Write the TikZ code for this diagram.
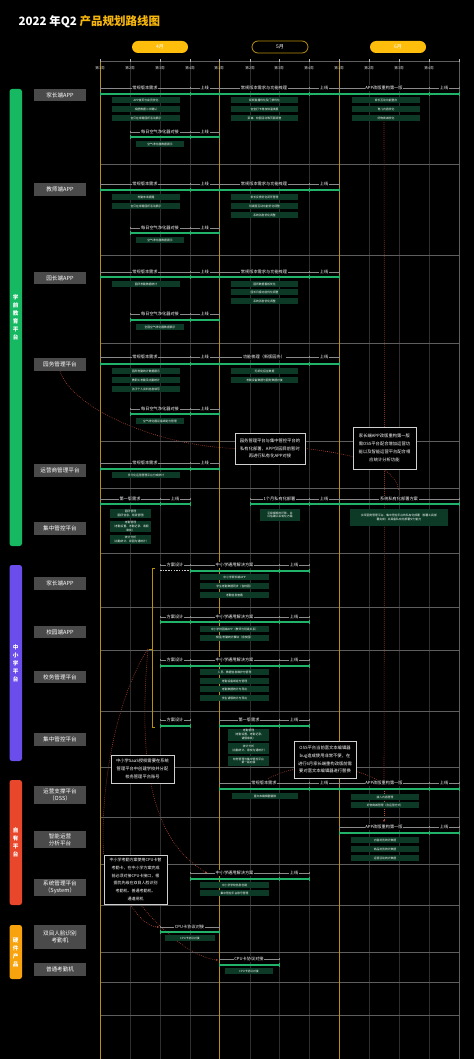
\documentclass[tikz,border=0pt]{standalone}
\usepackage{fontspec}
\setmainfont{Noto Sans CJK SC}
\usetikzlibrary{arrows.meta}
\pgfdeclarelayer{bgfill}
\pgfdeclarelayer{conn}
\pgfsetlayers{bgfill,conn,main}
\definecolor{lblgray}{HTML}{4A4A4A}
\definecolor{catG}{HTML}{17B862}
\definecolor{catP}{HTML}{6A4DEB}
\definecolor{catR}{HTML}{E9472B}
\definecolor{catO}{HTML}{F8A30E}
\definecolor{goldc}{HTML}{B8900A}
\definecolor{pillY}{HTML}{FFBE0B}
\definecolor{titleY}{HTML}{F6B60C}
\definecolor{lgreen}{HTML}{22B36A}
\definecolor{boxg}{HTML}{0D3A27}
\definecolor{gridc}{HTML}{2E2E2E}
\definecolor{sepc}{HTML}{5E5E5E}
\definecolor{hdrgray}{HTML}{8A8A8A}
\definecolor{reddot}{HTML}{C04A33}
\definecolor{notegray}{HTML}{D0D0D0}
\newcommand\hseg[4]{%
  \draw[hdr] (#1,#3) -- (#2,#3);
  \draw[hdr] (#1,#3-1.2) -- (#1,#3+1.2);
  \draw[hdr] (#2,#3-1.2) -- (#2,#3+1.2);
  \node[htxt] at ({(#1+#2)/2},#3) {#4};}
\newcommand\gseg[3]{\draw[gline] (#1,#3) -- (#2,#3);}
\newcommand\gtk[2]{\draw[gtick] (#1,#2-1.8) -- (#1,#2+1.8);}
\newcommand\tbx[4]{\fill[boxg] (#1,#3-3.1) rectangle (#2,#3+3.1); \node[btxt] at ({(#1+#2)/2},#3) {#4};}
\newcommand\tbxx[5]{\fill[boxg] (#1,#3) rectangle (#2,#4); \node[btxt] at ({(#1+#2)/2},{(#3+#4)/2}) {#5};}
\begin{document}
\begin{tikzpicture}[x=1pt,y=-1pt,
  hdr/.style={draw=hdrgray,line width=0.35pt},
  htxt/.style={fill=black,text=white,inner sep=0.8pt,font=\fontsize{4.2}{5}\selectfont},
  gline/.style={draw=lgreen,line width=1.1pt},
  gtick/.style={draw=lgreen,line width=0.6pt},
  btxt/.style={text=white,inner sep=0pt,align=center,font=\fontsize{2.8}{3.6}\selectfont},
  lbl/.style={fill=lblgray,text=white,inner sep=0pt,minimum width=52pt,minimum height=12.5pt,align=center,font=\fontsize{5.6}{7}\selectfont},
  cat/.style={rounded corners=2.5pt},
  cattxt/.style={text=white,align=center,inner sep=0pt,font=\fontsize{5.6}{8}\selectfont\bfseries},
  note/.style={draw=notegray,line width=0.8pt,fill=black,text=white,align=center,inner sep=0pt,font=\fontsize{4.3}{7.8}\selectfont},
  rdot/.style={draw=reddot,line width=0.6pt,dash pattern=on 0.7pt off 1.3pt},
  rarr/.style={rdot,-{Stealth[length=2.2pt,width=2pt]}},
  wk/.style={text=white!85!black,font=\fontsize{3.6}{4}\selectfont,inner sep=0pt},
  pill/.style={rounded corners=6pt,minimum width=56pt,minimum height=12pt,inner sep=0pt,font=\fontsize{5}{6}\selectfont,text=white},
  wdash/.style={draw=white!80!black,line width=0.6pt,dash pattern=on 1.5pt off 1.2pt}
]
\useasboundingbox (0,0) rectangle (474,1059);
\begin{pgfonlayer}{bgfill}
\fill[black] (0,0) rectangle (474,1059);
\end{pgfonlayer}
% title
\node[anchor=west,inner sep=0pt,font=\fontsize{11.5}{12}\selectfont\bfseries,text=white] (title) at (18.5,21.5) {2022 年Q2 \textcolor{titleY}{产品规划路线图}};
% months
\node[pill,fill=pillY] (mo4) at (160,47) {4月};
\node[pill,draw=goldc,line width=0.8pt,fill=black] (mo5) at (280,47) {5月};
\node[pill,fill=pillY] (mo6) at (398,47) {6月};
% grid
\foreach \x in {130,160,190,250,279,309,369,399,429} \draw[gridc,line width=0.5pt] (\x,61) -- (\x,1059);
\draw[sepc,line width=0.6pt] (459,61) -- (459,1059);
\foreach \y in {164,255,343,441,488,553,607,650,711,767,817,864,905,952,982,1015} \draw[sepc,line width=0.7pt] (100,\y) -- (459,\y);
\foreach \x in {100,219,339} \draw[goldc,line width=0.8pt] (\x,61) -- (\x,1059);
\draw[sepc,line width=0.6pt] (100,61) -- (459,61);
\foreach \x in {100,130,160,190,219,250,279,309,339,369,399,429,459} \draw[white!70!black,line width=0.5pt] (\x,59.5) -- (\x,62.5);
\foreach \x/\wn in {100/1,130/2,160/3,190/4,219/1,250/2,279/3,309/4,339/1,369/2,399/3,429/4} \node[wk] at (\x,68) {第{\wn}周};
% category bars
\fill[catG,cat] (9.5,89) rectangle (22,546);
\fill[catP,cat] (9.5,565) rectangle (22,761);
\fill[catR,cat] (9.5,780) rectangle (22,905);
\fill[catO,cat] (9.5,925) rectangle (22,979);
\node[cattxt] (c1) at (15.75,317.5) {学\\前\\教\\育\\平\\台};
\node[cattxt] (c2) at (15.75,663) {中\\小\\学\\平\\台};
\node[cattxt] (c3) at (15.75,842.5) {自\\有\\平\\台};
\node[cattxt] (c4) at (15.75,952) {硬\\件\\产\\品};
% labels
\node[lbl] (p1) at (60,95) {家长端APP};
\node[lbl] (p2) at (60,189.5) {教师端APP};
\node[lbl] (p3) at (60,278) {园长端APP};
\node[lbl] (p4) at (60,364.5) {园务管理平台};
\node[lbl] (p5) at (60,470.5) {运营商管理平台};
\node[lbl] (p6) at (60,528.5) {集中管控平台};
\node[lbl] (m1) at (60,583.5) {家长端APP};
\node[lbl] (m2) at (60,632) {校园端APP};
\node[lbl] (m3) at (60,677) {校务管理平台};
\node[lbl] (m4) at (60,739.5) {集中管控平台};
\node[lbl,minimum height=18pt] (s1) at (60,795) {运营支撑平台\\（OSS）};
\node[lbl,minimum height=17pt] (s2) at (60,839.5) {智能运营\\分析平台};
\node[lbl,minimum height=17pt] (s3) at (60,887.5) {系统管理平台\\（System）};
\node[lbl,minimum height=24pt] (h1) at (60,937) {双目人脸识别\\考勤机};
\node[lbl] (h2) at (60,969.5) {普通考勤机};
% ===== 学前 家长端
\hseg{100}{190}{88}{常规版本需求}
\hseg{190}{219}{88}{上线}
\hseg{219}{309}{88}{常规版本需求与功能梳理}
\hseg{309}{339}{88}{上线}
\hseg{339}{429}{88}{APP改版重构第一版}
\hseg{429}{459}{88}{上线}
\gseg{100}{459}{94}
\foreach \x in {100,190,219,309,339,429,459} {\gtk{\x}{94}}
\tbx{112}{180}{100}{APP首页与会员优化}
\tbx{112}{180}{109}{相册数据二次确认}
\tbx{112}{180}{118}{宝贝在家看园所活动展示}
\tbx{231}{298}{100}{视频直播优化及门禁优化}
\tbx{231}{298}{109}{宝宝打卡增加体温填报}
\tbx{231}{298}{118}{菜谱、校园活动等页面调整}
\tbx{352}{420}{100}{家长互动功能整合}
\tbx{352}{420}{109}{育儿内容优化}
\tbx{352}{420}{118}{好物商城优化}
\hseg{130}{190}{132}{每日空气净化器对接}
\hseg{190}{219}{132}{上线}
\gseg{130}{219}{137}
\foreach \x in {130,190,219} {\gtk{\x}{137}}
\tbx{136}{184}{144}{空气净化器数据展示}
% ===== 教师端
\hseg{100}{190}{184}{常规版本需求}
\hseg{190}{219}{184}{上线}
\hseg{219}{309}{184}{常规版本需求与功能梳理}
\hseg{309}{339}{184}{上线}
\gseg{100}{339}{190}
\foreach \x in {100,190,219,309,339} {\gtk{\x}{190}}
\tbx{112}{180}{197}{考勤未读提醒}
\tbx{112}{180}{206}{宝贝在家看园所活动展示}
\tbx{231}{298}{197}{家长反馈优化闭环管理}
\tbx{231}{298}{206}{班级圈互动功能优化调整}
\tbx{231}{298}{215}{系统消息优化调整}
\hseg{130}{190}{228}{每日空气净化器对接}
\hseg{190}{219}{228}{上线}
\gseg{130}{219}{233}
\foreach \x in {130,190,219} {\gtk{\x}{233}}
\tbx{136}{184}{240}{空气净化器数据展示}
% ===== 园长端
\hseg{100}{190}{272}{常规版本需求}
\hseg{190}{219}{272}{上线}
\hseg{219}{309}{272}{常规版本需求与功能梳理}
\hseg{309}{339}{272}{上线}
\gseg{100}{339}{277}
\foreach \x in {100,190,219,309,339} {\gtk{\x}{277}}
\tbx{112}{180}{284}{园所考勤数据统计}
\tbx{231}{298}{284}{园所数据看板优化}
\tbx{231}{298}{292}{园长日报功能优化调整}
\tbx{231}{298}{301}{系统消息优化调整}
\hseg{130}{190}{314}{每日空气净化器对接}
\hseg{190}{219}{314}{上线}
\gseg{130}{219}{320}
\foreach \x in {130,190,219} {\gtk{\x}{320}}
\tbx{136}{184}{327}{全园空气净化器数据展示}
% ===== 园务
\hseg{100}{190}{357}{常规版本需求}
\hseg{190}{219}{357}{上线}
\hseg{219}{309}{357}{功能梳理（新版园务）}
\hseg{309}{339}{357}{上线}
\gseg{100}{339}{364}
\foreach \x in {100,190,219,309,339} {\gtk{\x}{364}}
\tbx{112}{180}{371}{园所考勤统计数据展示}
\tbx{112}{180}{380}{教职工考勤及出勤统计}
\tbx{112}{180}{389}{孩子个人资料信息填写}
\tbx{231}{298}{371}{无纸化招生数据}
\tbx{231}{298}{380}{考勤设备数据与园务数据对接}
\hseg{130}{190}{409}{每日空气净化器对接}
\hseg{190}{219}{409}{上线}
\gseg{130}{219}{414}
\foreach \x in {130,190,219} {\gtk{\x}{414}}
\tbx{136}{184}{421}{空气净化器设备绑定与管理}
% ===== 运营商
\hseg{100}{190}{463}{常规版本需求}
\hseg{190}{219}{463}{上线}
\gseg{100}{219}{469}
\foreach \x in {100,190,219} {\gtk{\x}{469}}
\tbx{112}{180}{475}{多元化运营管理平台分成统计}
% ===== 集中管控 学前
\hseg{100}{160}{499}{第一版需求}
\hseg{160}{190}{499}{上线}
\hseg{250}{309}{499}{1个月私有化部署}
\hseg{309}{339}{499}{上线}
\hseg{339}{459}{499}{系统私有化部署方案}
\gseg{100}{190}{504}
\gseg{250}{459}{504}
\foreach \x in {100,160,190,250,309,339,459} {\gtk{\x}{504}}
\tbxx{110}{151}{508.5}{518}{园所管理\\（园所信息、班级管理）}
\tbxx{110}{151}{521}{532}{考勤管理\\（考勤设置、考勤记录、请假\\审批）}
\tbxx{110}{151}{534.5}{544}{统计分析\\（出勤统计、家园沟通统计）}
\tbxx{260}{300}{508.5}{521}{平级模板的迁移，并\\评估确认私有化方案}
\tbxx{350}{448}{508.5}{526}{实现园务管理平台、集中管控平台的私有化部署（部署工具部\\署完成）并具备私有化部署交付能力}
% ===== 中小学 家长端
\hseg{160}{190}{565}{方案设计}
\hseg{190}{279}{565}{中小学通用解决方案}
\hseg{279}{309}{565}{上线}
\draw[wdash] (160,570.5) -- (190,570.5);
\gseg{190}{309}{571}
\foreach \x in {190,279,309} {\gtk{\x}{571}}
\tbx{200}{269}{577}{中小学家长端APP}
\tbx{200}{269}{586}{学生考勤数据同步（含校园）}
\tbx{200}{269}{595}{考勤信息查看}
% ===== 校园端
\hseg{160}{190}{617}{方案设计}
\hseg{190}{279}{617}{中小学通用解决方案}
\hseg{279}{309}{617}{上线}
\gseg{160}{309}{622}
\foreach \x in {160,190,279,309} {\gtk{\x}{622}}
\tbx{200}{269}{629}{中小学校园端APP（教师与班级关系）}
\tbx{200}{269}{638}{校园/考勤统计模块（含校园）}
% ===== 校务
\hseg{160}{190}{660}{方案设计}
\hseg{190}{279}{660}{中小学通用解决方案}
\hseg{279}{309}{660}{上线}
\gseg{160}{309}{666}
\foreach \x in {160,190,279,309} {\gtk{\x}{666}}
\tbx{200}{269}{672}{人员、数据信息维护与管理}
\tbx{200}{269}{681}{考勤设备绑定与管理}
\tbx{200}{269}{689}{考勤数据统计与导出}
\tbx{200}{269}{698}{学生请假统计与导出}
% ===== 集中管控 中小学
\hseg{160}{190}{720}{方案设计}
\hseg{219}{279}{720}{第一版需求}
\hseg{279}{309}{720}{上线}
\gseg{160}{190}{726}
\gseg{219}{309}{726}
\foreach \x in {160,190,219,279,309} {\gtk{\x}{726}}
\tbxx{228}{269}{728.5}{740.5}{考勤管理\\（考勤设置、考勤记录、\\请假审批）}
\tbxx{228}{269}{743}{753.5}{统计分析\\（出勤统计、家校沟通统计）}
\tbxx{228}{269}{756}{766}{校务管理与集中管控平台\\第一版对接}
% yellow bracket
\draw[goldc,line width=0.7pt] (155,568.5) -- (152,568.5) -- (152,727) -- (155,727);
\draw[goldc,line width=0.7pt] (152,649) -- (148.5,649);
% ===== OSS
\hseg{219}{309}{783}{常规版本需求}
\hseg{309}{339}{783}{上线}
\hseg{339}{429}{783}{APP改版重构第一版}
\hseg{429}{459}{783}{上线}
\gseg{219}{459}{789}
\foreach \x in {219,309,339,429,459} {\gtk{\x}{789}}
\tbx{232}{298}{796}{富文本编辑器替换}
\tbx{351}{419}{797}{接入内容管理}
\tbx{351}{419}{805}{好物商城管理（含运营方式）}
% ===== 智能运营
\hseg{339}{429}{827}{APP改版重构第一版}
\hseg{429}{459}{827}{上线}
\gseg{339}{459}{833}
\foreach \x in {339,429,459} {\gtk{\x}{833}}
\tbx{351}{419}{840}{内容浏览统计数据}
\tbx{351}{419}{849}{商品浏览统计数据}
\tbx{351}{419}{858}{运营活动统计数据}
% ===== 系统管理
\hseg{190}{279}{873}{中小学通用解决方案}
\hseg{279}{309}{873}{上线}
\gseg{190}{309}{879}
\foreach \x in {190,279,309} {\gtk{\x}{879}}
\tbx{200}{269}{885}{中小学学校信息创建}
\tbx{200}{269}{893}{集中管控平台账号管理}
% ===== 双目
\hseg{160}{219}{927}{CPU卡协议对接}
\gseg{160}{219}{932}
\foreach \x in {160,219} {\gtk{\x}{932}}
\tbx{165}{215}{938}{CPU卡协议对接}
% ===== 普通
\hseg{219}{279}{959}{CPU卡协议对接}
\gseg{219}{279}{965}
\foreach \x in {219,279} {\gtk{\x}{965}}
\tbx{225}{273}{971}{CPU卡协议对接}
% ===== notes
\node[note,minimum width=70pt,minimum height=31pt] (nA) at (270,448.5) {园务管理平台与集中管控平台的\\私有化部署，APP仅园目前暂时\\再进行私有化APP对接};
\node[note,minimum width=63pt,minimum height=42pt] (nB) at (384.5,448) {家长端APP改版重构第一版\\需OSS平台配合增加运营功\\能以及智能运营平台配合相\\应统计分析功能};
\node[note,minimum width=63pt,minimum height=28pt] (nC) at (142.5,769) {中小学SaaS授权需要在系统\\管理平台中创建学校并分配\\校务管理平台账号};
\node[note,minimum width=62pt,minimum height=37pt] (nD) at (325,759.5) {OSS平台当前富文本编辑器\\bug造成使用非常不便，在\\进行6月家长端重构改版前需\\要对富文本编辑器进行替换};
\node[note,minimum width=63pt,minimum height=49pt,font=\fontsize{4}{7.8}\selectfont] (nE) at (135.5,879.5) {中小学考勤方案使用CPU卡替\\考勤卡，在中小学方案完成\\前必须对接CPU卡接口，根\\据优先级在双目人脸识别\\考勤机、普通考勤机、\\通道闸机};
% ===== connectors
\coordinate (rTop) at (384,122);
\coordinate (tA) at (399,490);
\coordinate (oss6) at (384,785);
\coordinate (oss6b) at (384,791);
\coordinate (ana6) at (384,822);
\coordinate (dL) at (268,779);
\coordinate (yj) at (148,649);
\coordinate (sysM) at (207,873);
\coordinate (cpu1) at (159,927);
\coordinate (cpu2) at (218,960);
\begin{pgfonlayer}{conn}
\draw[rdot] (p4.south) .. controls (70,405) and (150,445) .. (nA.west);
\draw[rarr] (nA.east) .. controls (360,455) and (392,465) .. (tA);
\draw[rdot] (rTop) -- (nB.north);
\draw[rarr] (nB.south) -- (oss6);
\draw[rarr] (oss6b) -- (ana6);
\draw[rarr] (dL) .. controls (295,762) and (355,762) .. (oss6);
\draw[rdot] (yj) .. controls (115,700) and (100,790) .. (nE.north west);
\draw[rarr] (yj) .. controls (138,760) and (150,840) .. (sysM);
\draw[rarr] ([xshift=-5pt]nE.south) .. controls (140,920) and (150,927) .. (cpu1);
\draw[rarr] ([xshift=5pt]nE.south) .. controls (165,935) and (195,958) .. (cpu2);
\end{pgfonlayer}
\end{tikzpicture}
\end{document}
